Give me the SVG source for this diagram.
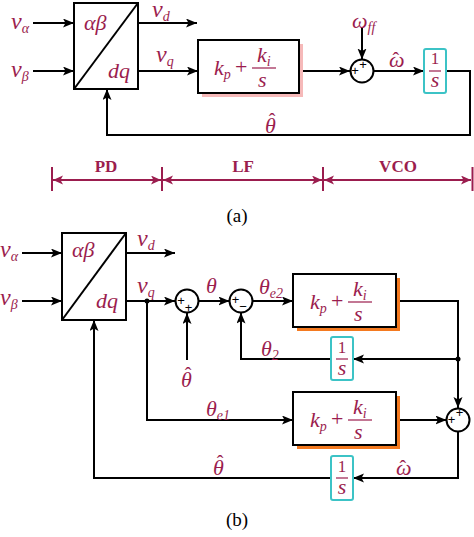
<svg xmlns="http://www.w3.org/2000/svg" width="474" height="537" viewBox="0 0 474 537">
<defs>
<marker id="arr" markerUnits="userSpaceOnUse" markerWidth="12" markerHeight="10" refX="11" refY="4.5" orient="auto">
<path d="M0,0 L11,4.5 L0,9 L2.5,4.5 z" fill="#000"/>
</marker>
<marker id="darr" markerUnits="userSpaceOnUse" markerWidth="12" markerHeight="10" refX="10" refY="4.5" orient="auto-start-reverse">
<path d="M0,0 L10,4.5 L0,9 L2.5,4.5 z" fill="#9b1d4e"/>
</marker>
<style>
.ln{fill:none;stroke:#000;stroke-width:2}
.ar{marker-end:url(#arr)}
.box{fill:#fff;stroke:#000;stroke-width:2}
.int{fill:#fff;stroke:#3cc3c6;stroke-width:2}
.m{font-family:"Liberation Serif",serif;font-style:italic;fill:#9b1d4e;font-size:22px}
.v{font-size:24px}
.s{font-size:14px}
.up{font-style:normal}
.h{font-style:normal;font-size:20px}
.one{font-family:"Liberation Serif",serif;fill:#9b1d4e;font-size:17px;text-anchor:middle}
.sg{font-family:"Liberation Sans",sans-serif;font-size:13px;fill:#000}
.dim{fill:none;stroke:#9b1d4e;stroke-width:2}
.dl{font-family:"Liberation Serif",serif;font-weight:bold;font-size:17px;fill:#9b1d4e;text-anchor:middle}
.cap{font-family:"Liberation Serif",serif;font-size:19px;fill:#000;text-anchor:middle}
.bar{stroke:#9b1d4e;stroke-width:1.2}
</style>
</defs>

<g id="connectors">
<!-- (a) -->
<path class="ln ar" d="M33,23 H74"/>
<path class="ln ar" d="M33,71 H74"/>
<path class="ln ar" d="M138,23 H197"/>
<path class="ln ar" d="M138,71 H198"/>
<path class="ln ar" d="M299,71 H350"/>
<path class="ln ar" d="M362,28 V59.5"/>
<path class="ln ar" d="M373.5,71 H424"/>
<path class="ln ar" d="M446,71 H470 V135 H107 V89"/>
<!-- (b) -->
<path class="ln ar" d="M22,253 H62"/>
<path class="ln ar" d="M22,301 H62"/>
<path class="ln ar" d="M126,253 H175"/>
<path class="ln ar" d="M126,301 H175"/>
<path class="ln ar" d="M187,360 V313"/>
<path class="ln ar" d="M198.5,301 H229.5"/>
<path class="ln ar" d="M252.5,301 H293"/>
<path class="ln ar" d="M396,301 H458 V408"/>
<path class="ln ar" d="M458,359 H353"/>
<path class="ln ar" d="M331,359 H241 V312.5"/>
<path class="ln ar" d="M147,301 V420 H293"/>
<path class="ln ar" d="M396,420 H446.5"/>
<path class="ln ar" d="M458,431.5 V478 H353"/>
<path class="ln ar" d="M331,478 H94 V320"/>
<circle cx="147" cy="301" r="2.5" fill="#000"/>
<circle cx="458" cy="359" r="2.5" fill="#000"/>
</g>

<!-- (a) nodes -->
<g id="a-labels-in">
<text class="m" x="11" y="29"><tspan class="v">v</tspan><tspan class="s" dy="4">α</tspan></text>
<text class="m" x="11" y="77"><tspan class="v">v</tspan><tspan class="s" dy="4">β</tspan></text>
</g>
<g id="a-park">
<rect class="box" x="74" y="3" width="64" height="86"/>
<line class="ln" x1="74" y1="89" x2="138" y2="3"/>
<text class="m" x="84" y="30">αβ</text>
<text class="m" x="108" y="78">dq</text>
</g>
<g id="a-out-labels">
<text class="m" x="152" y="17"><tspan class="v">v</tspan><tspan class="s" dy="4">d</tspan></text>
<text class="m" x="156" y="62"><tspan class="v">v</tspan><tspan class="s" dy="4">q</tspan></text>
</g>
<g id="a-pi">
<rect x="202" y="44" width="101" height="53" fill="#f6b9b9"/>
<rect class="box" x="198" y="40" width="101" height="53"/>
<text class="m" x="214" y="75">k<tspan class="s" dy="4">p</tspan></text>
<text class="m up" x="235" y="74">+</text>
<text class="m" x="257" y="62">k<tspan class="s" dy="4">i</tspan></text>
<line class="bar" x1="252" y1="68" x2="276" y2="68"/>
<text class="m" x="258" y="87">s</text>
</g>
<g id="a-sum">
<circle cx="362" cy="71" r="11.5" fill="#fff" stroke="#000" stroke-width="2"/>
<text class="sg" x="355" y="75" text-anchor="middle">+</text>
<text class="sg" x="363" y="69" text-anchor="middle">+</text>
<text class="m" x="352" y="28">ω<tspan class="s" dy="4">ff</tspan></text>
<text class="m" x="389" y="67">ω<tspan class="h" dx="-12">ˆ</tspan></text>
</g>
<g id="a-int">
<rect class="int" x="424" y="49" width="22" height="44" rx="2"/>
<text class="one" x="435" y="64">1</text>
<line class="bar" x1="429" y1="71" x2="441" y2="71"/>
<text class="m" x="435" y="87" font-size="18" text-anchor="middle">s</text>
<text class="m" x="265" y="133">θ<tspan class="h" dx="-7" dy="-5">ˆ</tspan></text>
</g>
<g id="a-dim">
<line class="dim" x1="52" y1="167" x2="52" y2="191"/>
<line class="dim" x1="162" y1="167" x2="162" y2="191"/>
<line class="dim" x1="323" y1="167" x2="323" y2="191"/>
<line class="dim" x1="472.5" y1="167" x2="472.5" y2="191" stroke-width="3"/>
<path class="dim" d="M53,180 H161" marker-start="url(#darr)" marker-end="url(#darr)"/>
<path class="dim" d="M163,180 H322" marker-start="url(#darr)" marker-end="url(#darr)"/>
<path class="dim" d="M324,180 H471" marker-start="url(#darr)" marker-end="url(#darr)"/>
<text class="dl" x="106" y="172">PD</text>
<text class="dl" x="243" y="172">LF</text>
<text class="dl" x="398" y="172">VCO</text>
<text class="cap" x="237" y="222">(a)</text>
</g>

<!-- (b) nodes -->
<g id="b-labels-in">
<text class="m" x="0" y="257"><tspan class="v">v</tspan><tspan class="s" dy="4">α</tspan></text>
<text class="m" x="0" y="305"><tspan class="v">v</tspan><tspan class="s" dy="4">β</tspan></text>
</g>
<g id="b-park">
<rect class="box" x="62" y="233" width="64" height="87"/>
<line class="ln" x1="62" y1="320" x2="126" y2="233"/>
<text class="m" x="72" y="257">αβ</text>
<text class="m" x="96" y="308">dq</text>
</g>
<g id="b-out-labels">
<text class="m" x="137" y="246"><tspan class="v">v</tspan><tspan class="s" dy="4">d</tspan></text>
<text class="m" x="137" y="293"><tspan class="v">v</tspan><tspan class="s" dy="4">q</tspan></text>
</g>
<g id="b-sum1">
<circle cx="187" cy="301" r="11.5" fill="#fff" stroke="#000" stroke-width="2"/>
<text class="sg" x="181" y="305" text-anchor="middle">+</text>
<text class="sg" x="188.5" y="312" text-anchor="middle">+</text>
<text class="m" x="181" y="387">θ<tspan class="h" dx="-7" dy="-5">ˆ</tspan></text>
<text class="m" x="206" y="293">θ</text>
</g>
<g id="b-sum2">
<circle cx="241" cy="301" r="11.5" fill="#fff" stroke="#000" stroke-width="2"/>
<text class="sg" x="235.5" y="304" text-anchor="middle">+</text>
<text class="sg" x="243" y="311" text-anchor="middle">−</text>
<text class="m" x="259" y="294">θ<tspan class="s" dy="4">e2</tspan></text>
<text class="m" x="261" y="356">θ<tspan class="s" dy="4">2</tspan></text>
</g>
<g id="b-pi2">
<rect x="297" y="278" width="103" height="53" fill="#f47a20"/>
<rect class="box" x="293" y="274" width="103" height="53"/>
<text class="m" x="310" y="309">k<tspan class="s" dy="4">p</tspan></text>
<text class="m up" x="331" y="308">+</text>
<text class="m" x="353" y="296">k<tspan class="s" dy="4">i</tspan></text>
<line class="bar" x1="348" y1="302" x2="372" y2="302"/>
<text class="m" x="354" y="321">s</text>
</g>
<g id="b-int2">
<rect class="int" x="331" y="337" width="22" height="43" rx="2"/>
<text class="one" x="342" y="353">1</text>
<line class="bar" x1="336" y1="359" x2="348" y2="359"/>
<text class="m" x="342" y="375" font-size="18" text-anchor="middle">s</text>
</g>
<g id="b-pi1">
<rect x="297" y="396" width="103" height="53" fill="#f47a20"/>
<rect class="box" x="293" y="392" width="103" height="53"/>
<text class="m" x="310" y="427">k<tspan class="s" dy="4">p</tspan></text>
<text class="m up" x="331" y="426">+</text>
<text class="m" x="353" y="414">k<tspan class="s" dy="4">i</tspan></text>
<line class="bar" x1="348" y1="420" x2="372" y2="420"/>
<text class="m" x="354" y="439">s</text>
<text class="m" x="206" y="416">θ<tspan class="s" dy="4">e1</tspan></text>
</g>
<g id="b-sum3">
<circle cx="458" cy="420" r="11.5" fill="#fff" stroke="#000" stroke-width="2"/>
<text class="sg" x="451.5" y="424" text-anchor="middle">+</text>
<text class="sg" x="459.5" y="417" text-anchor="middle">+</text>
<text class="m" x="396" y="475">ω<tspan class="h" dx="-12">ˆ</tspan></text>
</g>
<g id="b-int3">
<rect class="int" x="331" y="456" width="22" height="44" rx="2"/>
<text class="one" x="342" y="472">1</text>
<line class="bar" x1="336" y1="478" x2="348" y2="478"/>
<text class="m" x="342" y="494" font-size="18" text-anchor="middle">s</text>
<text class="m" x="213" y="475">θ<tspan class="h" dx="-7" dy="-5">ˆ</tspan></text>
<text class="cap" x="237" y="526">(b)</text>
</g>
</svg>
